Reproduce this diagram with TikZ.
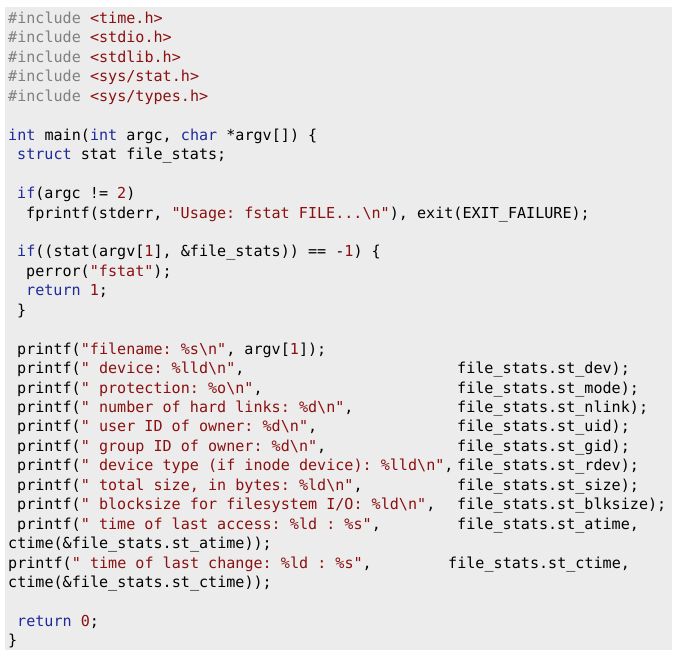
\documentclass[tikz,border=0pt]{standalone}
\usepackage{fontspec}
\setmonofont{DejaVu Sans Mono}
\definecolor{kw}{HTML}{1F2A9A}
\definecolor{st}{HTML}{8B1010}
\definecolor{pp}{HTML}{808080}
\definecolor{bg}{HTML}{ECECEC}
\newcommand{\Kw}[1]{\textcolor{kw}{#1}}
\newcommand{\Sx}[1]{\textcolor{st}{#1}}
\newcommand{\Pp}[1]{\textcolor{pp}{#1}}
\newcommand{\BS}{\textbackslash}
\begin{document}
\begin{tikzpicture}[x=1pt,y=-1pt,
  code/.style={anchor=base west,inner sep=0pt,font=\ttfamily\fontsize{15.1}{19}\selectfont}]
\useasboundingbox (0,0) rectangle (676,655);
\fill[bg] (5,7) rectangle (672,650);
\newcommand{\Ln}[3]{\node[code] at (#1,{23.5+(#2-1)*19.45}) {#3};}
\Ln{8}{1}{\Pp{\#include} \Sx{<time.h>}}
\Ln{8}{2}{\Pp{\#include} \Sx{<stdio.h>}}
\Ln{8}{3}{\Pp{\#include} \Sx{<stdlib.h>}}
\Ln{8}{4}{\Pp{\#include} \Sx{<sys/stat.h>}}
\Ln{8}{5}{\Pp{\#include} \Sx{<sys/types.h>}}
\Ln{8}{7}{\Kw{int} main(\Kw{int} argc, \Kw{char} *argv[]) \{}
\Ln{17}{8}{\Kw{struct} stat file\_stats;}
\Ln{17}{10}{\Kw{if}(argc != \Sx{2})}
\Ln{26}{11}{fprintf(stderr, \Sx{"Usage: fstat FILE...\BS n"}), exit(EXIT\_FAILURE);}
\Ln{17}{13}{\Kw{if}((stat(argv[\Sx{1}], \&file\_stats)) == -\Sx{1}) \{}
\Ln{26}{14}{perror(\Sx{"fstat"});}
\Ln{26}{15}{\Kw{return} \Sx{1};}
\Ln{17}{16}{\}}
\Ln{17}{18}{printf(\Sx{"filename: \%s\BS n"}, argv[\Sx{1}]);}
\Ln{17}{19}{printf(\Sx{" device: \%lld\BS n"},}
\Ln{17}{20}{printf(\Sx{" protection: \%o\BS n"},}
\Ln{17}{21}{printf(\Sx{" number of hard links: \%d\BS n"},}
\Ln{17}{22}{printf(\Sx{" user ID of owner: \%d\BS n"},}
\Ln{17}{23}{printf(\Sx{" group ID of owner: \%d\BS n"},}
\Ln{17}{24}{printf(\Sx{" device type (if inode device): \%lld\BS n"},}
\Ln{17}{25}{printf(\Sx{" total size, in bytes: \%ld\BS n"},}
\Ln{17}{26}{printf(\Sx{" blocksize for filesystem I/O: \%ld\BS n"},}
\Ln{17}{27}{printf(\Sx{" time of last access: \%ld : \%s"},}
\Ln{457}{19}{file\_stats.st\_dev);}
\Ln{457}{20}{file\_stats.st\_mode);}
\Ln{457}{21}{file\_stats.st\_nlink);}
\Ln{457}{22}{file\_stats.st\_uid);}
\Ln{457}{23}{file\_stats.st\_gid);}
\Ln{457}{24}{file\_stats.st\_rdev);}
\Ln{457}{25}{file\_stats.st\_size);}
\Ln{457}{26}{file\_stats.st\_blksize);}
\Ln{457}{27}{file\_stats.st\_atime,}
\Ln{8}{28}{ctime(\&file\_stats.st\_atime));}
\Ln{8}{29}{printf(\Sx{" time of last change: \%ld : \%s"},}
\Ln{448}{29}{file\_stats.st\_ctime,}
\Ln{8}{30}{ctime(\&file\_stats.st\_ctime));}
\Ln{17}{32}{\Kw{return} \Sx{0};}
\Ln{8}{33}{\}}
\end{tikzpicture}
\end{document}
